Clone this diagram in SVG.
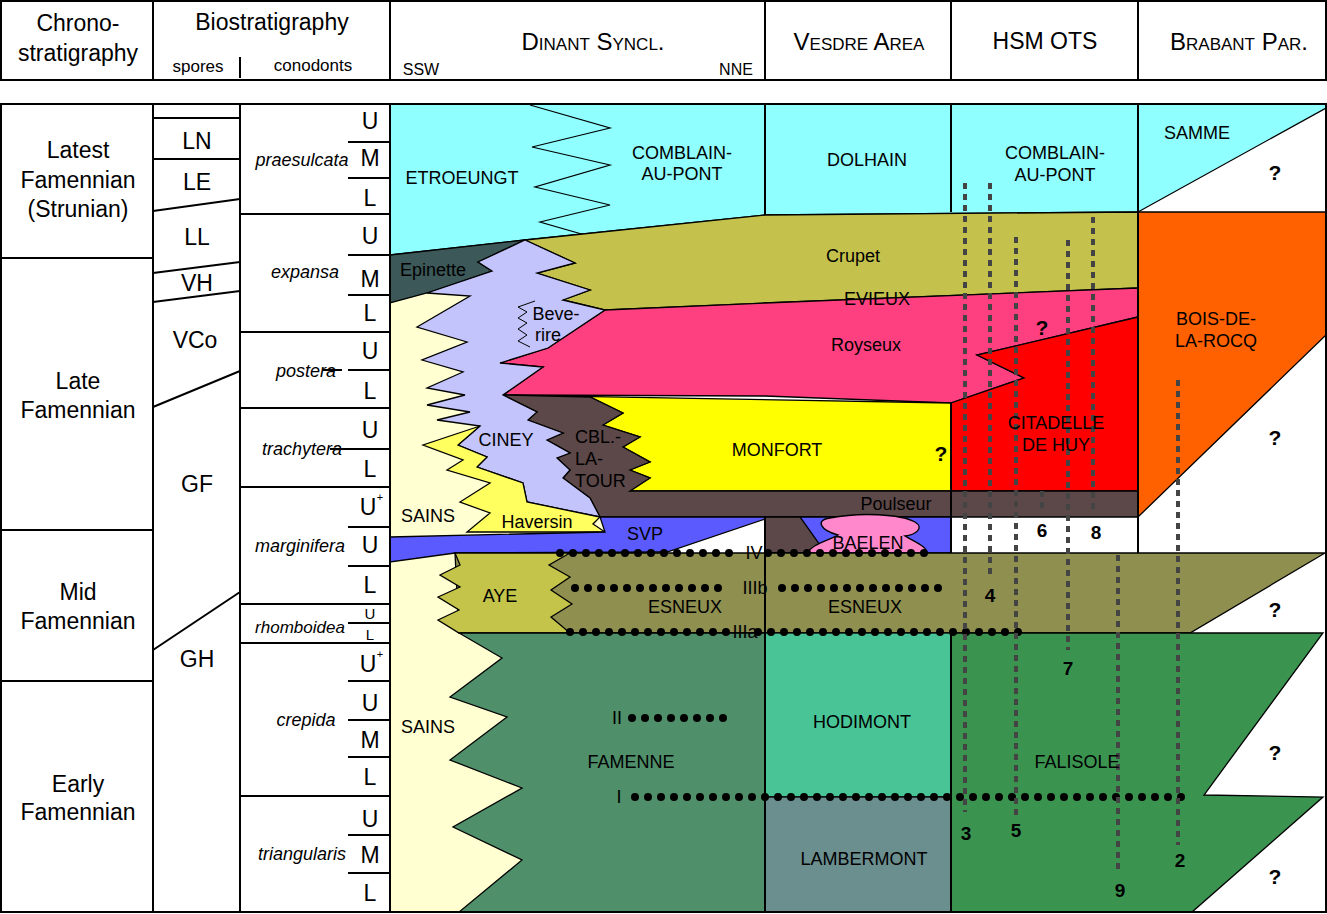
<svg xmlns="http://www.w3.org/2000/svg" width="1327" height="914" viewBox="0 0 1327 914">
<style>
text{font-family:"Liberation Sans",Arial,sans-serif;fill:#000}
.h{font-size:23px;text-anchor:middle}
.sc{font-size:24px;text-anchor:middle;font-variant:small-caps}
.c{font-size:23px;text-anchor:middle}
.f{font-size:18px;text-anchor:middle}
.z{font-size:18px;font-style:italic;text-anchor:middle}
.s{font-size:23px;text-anchor:middle}
.q{font-size:21px;font-weight:bold;text-anchor:middle}
.n{font-size:19px;font-weight:bold;text-anchor:middle}
.ln{stroke:#000;stroke-width:2;fill:none}
.p{stroke:#000;stroke-width:1.3}
.dot{stroke:#000;stroke-width:8;stroke-linecap:round;stroke-dasharray:0 13;fill:none}
.dash{stroke:#444;stroke-width:4;stroke-dasharray:6 5;fill:none}
</style>
<rect width="1327" height="914" fill="#fff"/>
<g id="header">
<rect x="1" y="1" width="1325" height="79" class="ln"/>
<path d="M153 1V80M390 1V80M765 1V80M951 1V80M1138 1V80M240 57V78" class="ln"/>
<text class="h" x="78" y="31">Chrono-</text><text class="h" x="78" y="61">stratigraphy</text>
<text class="h" x="272" y="30">Biostratigraphy</text>
<text x="198" y="72" style="font-size:17px;text-anchor:middle">spores</text>
<text x="313" y="71" style="font-size:17px;text-anchor:middle">conodonts</text>
<text class="sc" x="593" y="50">Dinant Syncl.</text>
<text x="421" y="75" style="font-size:16px;text-anchor:middle">SSW</text>
<text x="736" y="75" style="font-size:16px;text-anchor:middle">NNE</text>
<text class="sc" x="859" y="50">Vesdre Area</text>
<text class="h" x="1045" y="49">HSM OTS</text>
<text class="sc" x="1239" y="50">Brabant Par.</text>
</g>
<g id="chrono">
<rect x="1" y="104" width="152" height="808" class="ln"/>
<path d="M1 258H153M1 530H153M1 681H153" class="ln"/>
<text class="c" x="78" y="158">Latest</text><text class="c" x="78" y="188">Famennian</text><text class="c" x="78" y="217">(Strunian)</text>
<text class="c" x="78" y="389">Late</text><text class="c" x="78" y="418">Famennian</text>
<text class="c" x="78" y="600">Mid</text><text class="c" x="78" y="629">Famennian</text>
<text class="c" x="78" y="792">Early</text><text class="c" x="78" y="820">Famennian</text>
</g>
<g id="spores">
<rect x="153" y="104" width="87" height="808" class="ln"/>
<path d="M153 118H240M153 159H240M153 211L240 199M153 273L240 262M153 302L240 291M153 407L240 371M153 650L240 592" class="ln"/>
<text class="s" x="197" y="149">LN</text><text class="s" x="197" y="190">LE</text><text class="s" x="197" y="245">LL</text>
<text class="s" x="197" y="291">VH</text><text class="s" x="195" y="348">VCo</text><text class="s" x="197" y="492">GF</text><text class="s" x="197" y="667">GH</text>
</g>
<g id="conodonts">
<rect x="240" y="104" width="150" height="808" class="ln"/>
<path d="M240 214H390M240 332H390M240 408H390M240 487H390M240 604H390M240 643H390M240 796H390" class="ln"/>
<path d="M348 142H390M348 178H390M348 255H390M348 295H390M348 370H390M348 449H390M348 527H390M348 566H390M348 623H390M348 681H390M348 720H390M348 757H390M348 835H390M348 873H390M330 449H348M323 370H342" class="ln"/>
<text class="z" x="302" y="166">praesulcata</text><text class="z" x="305" y="278">expansa</text><text class="z" x="306" y="377">postera</text>
<text class="z" x="302" y="455">trachytera</text><text class="z" x="300" y="552">marginifera</text><text class="z" x="300" y="633" style="font-size:17px">rhomboidea</text>
<text class="z" x="306" y="726">crepida</text><text class="z" x="302" y="860">triangularis</text>
<g class="s">
<text class="s" x="370" y="129">U</text><text class="s" x="370" y="166">M</text><text class="s" x="370" y="206">L</text>
<text class="s" x="370" y="244">U</text><text class="s" x="370" y="287">M</text><text class="s" x="370" y="321">L</text>
<text class="s" x="370" y="359">U</text><text class="s" x="370" y="399">L</text>
<text class="s" x="370" y="438">U</text><text class="s" x="370" y="477">L</text>
<text class="s" x="368" y="515">U</text><text x="380" y="501" style="font-size:11px">+</text>
<text class="s" x="370" y="553">U</text><text class="s" x="370" y="593">L</text>
<text x="370" y="619" style="font-size:15px;text-anchor:middle">U</text><text x="370" y="640" style="font-size:15px;text-anchor:middle">L</text>
<text class="s" x="368" y="672">U</text><text x="380" y="658" style="font-size:11px">+</text>
<text class="s" x="370" y="711">U</text><text class="s" x="370" y="748">M</text><text class="s" x="370" y="785">L</text>
<text class="s" x="370" y="827">U</text><text class="s" x="370" y="863">M</text><text class="s" x="370" y="901">L</text>
</g>
</g>
<g id="units">
<rect x="390" y="290" width="230" height="622" fill="#ffffd2"/>
<polygon id="etroeungt" class="p" fill="#90ffff" points="390,104 1138,104 1138,212 765,215 525,240 390,255"/>
<polyline class="ln" style="stroke-width:1.2" points="530,105 610,128 532,147 610,165 535,187 610,205 540,222 585,235"/>
<polygon id="samme" class="p" fill="#90ffff" points="1138,104 1326,104 1326,108 1138,212"/>
<polygon id="epinette" class="p" fill="#3c5858" points="390,255 525,240 478,262 492,271 427,293 390,303"/>
<polygon id="crupet" class="p" fill="#c4c24c" points="525,240 765,215 1138,212 1138,288 765,303 605,310 563,300 590,290 537,273 575,263"/>
<polygon id="royseux" class="p" fill="#ff4080" points="605,310 765,303 1138,288 1138,317 977,355 1024,378 951,403 765,396 503,395 543,367 500,363 548,348"/>
<polygon id="citadelle" class="p" fill="#ff0000" points="1138,317 977,355 1024,378 951,403 951,491 1138,491"/>
<polygon id="monfort" class="p" fill="#ffff00" points="503,395 951,403 951,491 630,491 650,478 630,470 650,462 623,447 640,437 603,425 623,413 590,397"/>
<polygon id="cbl" class="p" fill="#5c4848" points="503,395 590,397 623,413 603,425 640,437 623,447 650,462 630,470 650,478 630,491 1138,491 1138,517 600,517 590,498 563,478 570,470 557,458 570,453 547,440 563,433 528,420 537,412"/>
<polygon id="ciney" class="p" fill="#c4c4fc" points="525,240 575,263 537,273 590,290 563,300 605,310 548,348 500,363 543,367 503,395 537,412 528,420 563,433 547,440 570,453 557,458 570,470 563,478 590,498 600,517 527,502 523,483 477,467 487,457 458,445 480,426 437,420 470,412 427,405 465,395 427,388 463,372 422,360 467,342 417,327 470,296 427,293 492,271 478,262"/>
<polygon id="haversin" class="p" fill="#ffff60" points="480,426 423,445 463,460 447,470 490,483 460,502 490,513 467,532 605,532 593,524 600,517 527,502 523,483 477,467 487,457 458,445"/>
<polyline class="ln" style="stroke-width:1" points="535,301 518,307 527,312 518,318 527,323 518,329 527,335 518,341 530,347"/>
<polygon id="svp" class="p" fill="#5a5aff" points="390,537 605,532 600,517 765,517 765,519 667,552 455,553 390,562"/>
<polygon id="vesdre-brown" class="p" fill="#5c4848" points="765,517 951,517 951,553 765,553"/>
<polygon id="vesdre-blue" class="p" fill="#5a5aff" points="800,517 951,517 951,553 808,553 820,545"/>
<path id="baelen" class="p" fill="#ff88cc" d="M808 553C810 545 830 540 838 535C820 530 815 520 830 518C860 512 900 514 915 522C925 528 915 535 905 536C915 542 930 548 925 553Z"/>
<polygon id="bois" class="p" fill="#ff6000" points="1138,212 1326,212 1326,335 1138,517"/>
<polygon id="esneux" class="p" fill="#8f8f50" points="455,553 1325,553 1190,633 459,633"/>
<polygon id="aye" class="p" fill="#c4c44a" points="455,553 570,553 549,565 570,577 551,590 572,604 551,617 570,633 459,633 438,620 459,610 438,597 460,587 440,575 460,565"/>
<polygon id="famenne" class="p" fill="#4f8f6a" points="459,633 765,633 765,912 459,912 522,860 453,827 522,788 450,760 507,717 450,697 502,658"/>
<rect id="hodimont" class="p" fill="#48c496" x="765" y="633" width="186" height="164"/>
<rect id="lambermont" class="p" fill="#6b8f8f" x="765" y="797" width="186" height="115"/>
<polygon id="falisole" class="p" fill="#3a9450" points="951,633 1323,633 1204,795 1323,797 1192,912 951,912"/>
<rect x="390" y="104" width="936" height="808" class="ln"/>
<path d="M765 104V215M951 104V212M1138 104V553M765 517V912M951 403V553M951 633V912" class="ln"/>
</g>
<g id="connectors">
<path class="dot" d="M560 553H740M768 553H935M575 588H728M782 588H940M570 632H732M758 632H1020M632 718H735M635 797H1186"/>
<path class="dash" d="M965 183V812M990 183V578M1016 237V815M1042 491V513M1068 240V650M1093 217V513M1118 555V872M1178 380V845"/>
</g>
<g id="labels">
<text class="f" x="462" y="184">ETROEUNGT</text>
<text class="f" x="682" y="159">COMBLAIN-</text><text class="f" x="682" y="180">AU-PONT</text>
<text class="f" x="867" y="166">DOLHAIN</text>
<text class="f" x="1055" y="159">COMBLAIN-</text><text class="f" x="1055" y="181">AU-PONT</text>
<text class="f" x="1197" y="139">SAMME</text>
<text class="f" x="433" y="276">Epinette</text>
<text class="f" x="853" y="262">Crupet</text>
<text class="f" x="877" y="305">EVIEUX</text>
<text class="f" x="556" y="320">Beve-</text><text class="f" x="548" y="341">rire</text>
<text class="f" x="866" y="351">Royseux</text>
<text class="f" x="1216" y="325">BOIS-DE-</text><text class="f" x="1216" y="347">LA-ROCQ</text>
<text class="f" x="1056" y="429">CITADELLE</text><text class="f" x="1056" y="451">DE HUY</text>
<text class="f" x="506" y="446">CINEY</text>
<text x="575" y="443" style="font-size:18px">CBL.-</text><text x="575" y="465" style="font-size:18px">LA-</text><text x="575" y="487" style="font-size:18px">TOUR</text>
<text class="f" x="777" y="456">MONFORT</text>
<text class="f" x="896" y="510">Poulseur</text>
<text class="f" x="428" y="522">SAINS</text>
<text class="f" x="537" y="528">Haversin</text>
<text class="f" x="645" y="540">SVP</text>
<text class="f" x="868" y="549">BAELEN</text>
<text class="f" x="500" y="602">AYE</text>
<text class="f" x="685" y="613">ESNEUX</text><text class="f" x="865" y="613">ESNEUX</text>
<text class="f" x="428" y="733">SAINS</text>
<text class="f" x="862" y="728">HODIMONT</text>
<text class="f" x="631" y="768">FAMENNE</text>
<text class="f" x="1077" y="768">FALISOLE</text>
<text class="f" x="864" y="865">LAMBERMONT</text>
<text class="f" x="754" y="559">IV</text><text class="f" x="755" y="594">IIIb</text><text class="f" x="745" y="638">IIIa</text>
<text class="f" x="617" y="724">II</text><text class="f" x="619" y="803">I</text>
<text class="q" x="1275" y="180">?</text><text class="q" x="1042" y="335">?</text><text class="q" x="941" y="461">?</text>
<text class="q" x="1275" y="445">?</text><text class="q" x="1275" y="617">?</text><text class="q" x="1275" y="760">?</text><text class="q" x="1275" y="884">?</text>
<text class="n" x="966" y="840">3</text><text class="n" x="990" y="602">4</text><text class="n" x="1016" y="837">5</text>
<text class="n" x="1042" y="537">6</text><text class="n" x="1068" y="675">7</text><text class="n" x="1096" y="539">8</text>
<text class="n" x="1120" y="897">9</text><text class="n" x="1180" y="867">2</text>
</g>
</svg>
